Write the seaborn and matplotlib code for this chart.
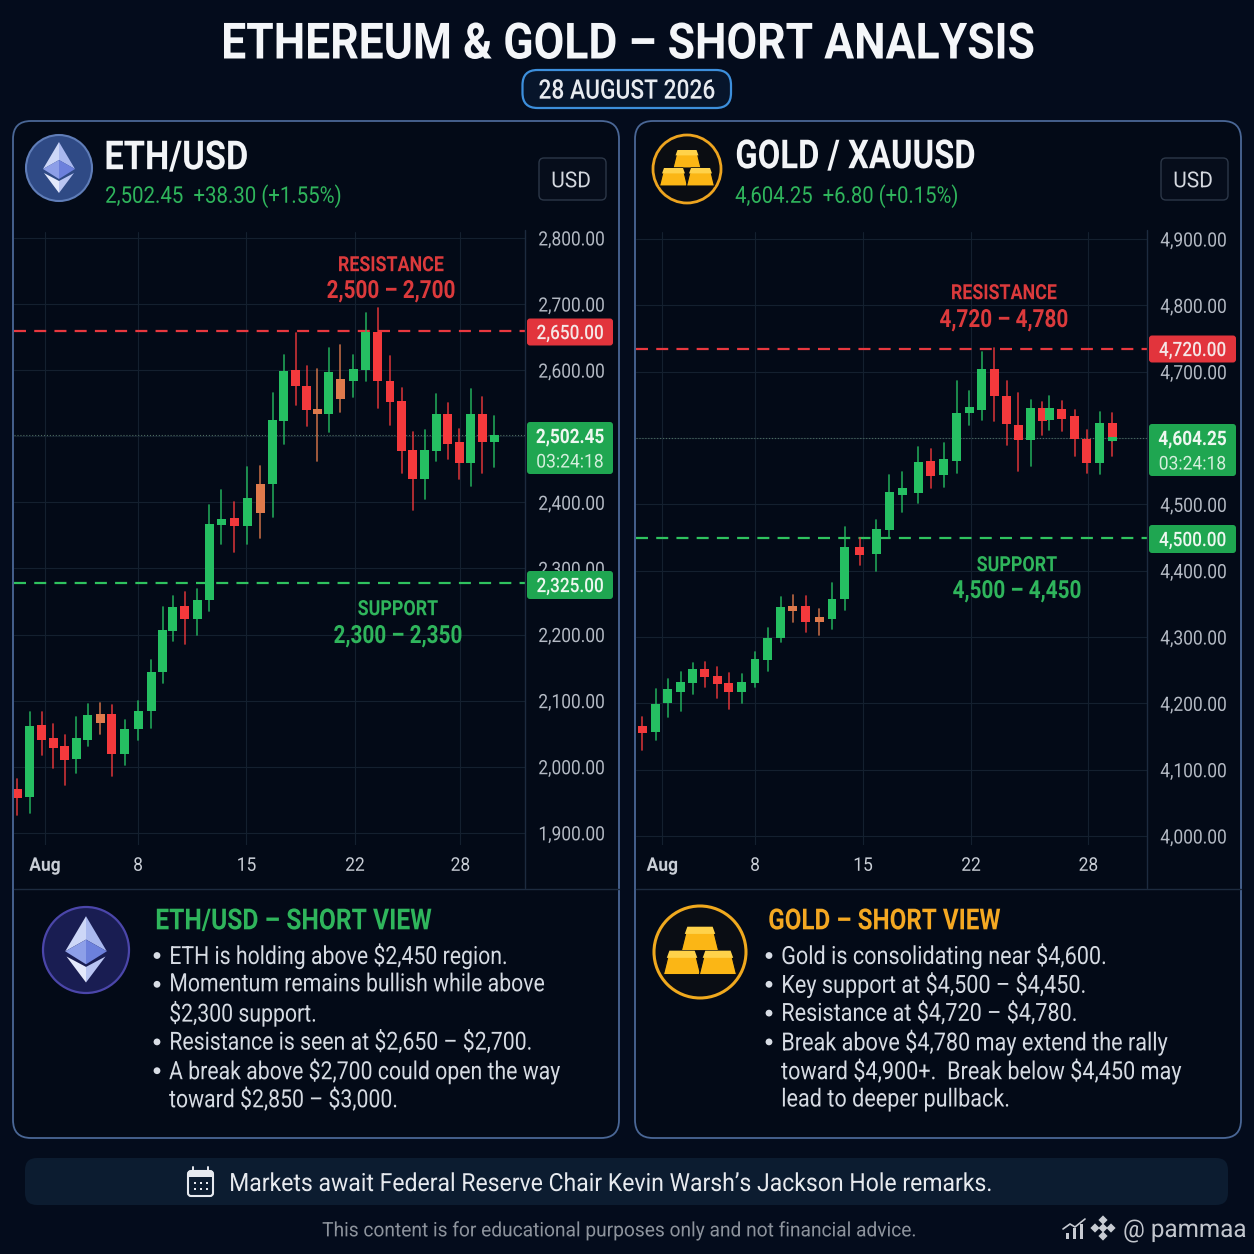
import numpy as np
import pandas as pd
import seaborn as sns
import matplotlib.pyplot as plt
from matplotlib.patches import FancyBboxPatch, Circle, Polygon, Rectangle
from matplotlib.patheffects import AbstractPathEffect
from matplotlib.transforms import Affine2D

# ETH/USD daily candles
eth_t = [0.21, 1.01, 1.79, 2.54, 3.29, 4.02, 4.75, 5.55, 6.32, 7.16, 8.02, 8.84, 9.59, 10.24,
         11.01, 11.81, 12.6, 13.37, 14.21, 15.05, 15.89, 16.69, 17.42, 18.17, 18.9, 19.57, 20.32,
         21.05, 21.89, 22.69, 23.48, 24.26, 25.01, 25.74, 26.5, 27.25, 27.98, 28.73, 29.46, 30.21, 30.98]
eth_open = [1967, 1954, 2063, 2043, 2031, 2011, 2041, 2080, 2080, 2020, 2057, 2084, 2143, 2206,
            2243, 2224, 2252, 2366, 2376, 2364, 2428, 2427, 2523, 2600, 2576, 2541, 2534,
            2587, 2584, 2600, 2657, 2584, 2553, 2479, 2436, 2478, 2534, 2491, 2460, 2534, 2491]
eth_high = [1982, 2083, 2083, 2064, 2048, 2075, 2095, 2096, 2094, 2070, 2100, 2161, 2241, 2258,
            2265, 2269, 2396, 2419, 2400, 2453, 2455, 2565, 2623, 2656, 2606, 2601, 2633,
            2638, 2623, 2686, 2694, 2621, 2573, 2506, 2509, 2564, 2551, 2511, 2571, 2560, 2531]
eth_low = [1927, 1930, 2018, 1998, 1973, 1990, 2031, 2049, 1986, 2003, 2040, 2058, 2126, 2190,
           2185, 2199, 2236, 2337, 2325, 2337, 2346, 2378, 2488, 2547, 2516, 2463, 2507,
           2536, 2560, 2583, 2542, 2517, 2444, 2389, 2405, 2462, 2465, 2436, 2425, 2445, 2453]
eth_close = [1953, 2062, 2041, 2028, 2010, 2043, 2079, 2066, 2019, 2057, 2084, 2143, 2207, 2242,
             2224, 2252, 2367, 2375, 2364, 2406, 2384, 2524, 2599, 2576, 2539, 2533, 2597,
             2557, 2602, 2657, 2583, 2552, 2478, 2436, 2479, 2534, 2488, 2460, 2534, 2491, 2502]
eth_orange = [7, 20, 25, 27]
eth_ticks = [1900, 2000, 2100, 2200, 2300, 2400, 2500, 2600, 2700, 2800]
eth_resistance_line, eth_support_line, eth_last = 2659, 2278, 2502

# Gold daily candles
gold_t = [0.7, 1.56, 2.36, 3.18, 3.96, 4.74, 5.54, 6.31, 7.14, 8.0, 8.84, 9.67, 10.46, 11.29,
          12.15, 12.99, 13.83, 14.79, 15.86, 16.7, 17.53, 18.58, 19.39, 20.23, 21.07, 21.87, 22.69,
          23.51, 24.31, 25.06, 25.87, 26.62, 27.07, 27.88, 28.72, 29.5, 30.34, 31.16, 31.16]
gold_open = [4166, 4157, 4200, 4217, 4231, 4252, 4242, 4230, 4217, 4231, 4266, 4299, 4347, 4347,
             4330, 4327, 4357, 4435, 4425, 4462, 4514, 4517, 4565, 4545, 4566, 4637, 4643,
             4704, 4663, 4620, 4597, 4646, 4627, 4644, 4633, 4599, 4563, 4623, 4596]
gold_high = [4180, 4222, 4237, 4247, 4261, 4262, 4255, 4246, 4245, 4277, 4314, 4361, 4364, 4362,
             4343, 4381, 4466, 4450, 4476, 4545, 4549, 4586, 4584, 4593, 4686, 4671, 4729,
             4735, 4686, 4668, 4657, 4655, 4663, 4656, 4643, 4612, 4640, 4637, 4601]
gold_low = [4130, 4145, 4180, 4189, 4214, 4224, 4208, 4192, 4200, 4224, 4249, 4293, 4323, 4308,
            4303, 4312, 4341, 4409, 4400, 4449, 4489, 4502, 4524, 4526, 4548, 4620, 4627,
            4625, 4589, 4550, 4558, 4605, 4612, 4611, 4573, 4547, 4546, 4573, 4596]
gold_close = [4156, 4199, 4221, 4232, 4252, 4240, 4229, 4217, 4232, 4267, 4299, 4345, 4340, 4323,
              4322, 4358, 4435, 4423, 4463, 4519, 4524, 4564, 4543, 4568, 4638, 4647, 4704,
              4663, 4621, 4597, 4645, 4626, 4645, 4629, 4599, 4563, 4623, 4601, 4601]
gold_orange = [12, 14]
gold_ticks = [4000, 4100, 4200, 4300, 4400, 4500, 4600, 4700, 4800, 4900]
gold_resistance_line, gold_support_line, gold_last = 4734, 4449, 4600

day_labels = ["Aug", "8", "15", "22", "28"]
eth_day_pos = [2.0, 8, 15, 22, 28.8]
gold_day_pos = [2.0, 8, 15, 22, 29.6]

eth_bullets = ["ETH is holding above $2,450 region.",
               "Momentum remains bullish while above\n$2,300 support.",
               "Resistance is seen at $2,650 – $2,700.",
               "A break above $2,700 could open the way\ntoward $2,850 – $3,000."]
gold_bullets = ["Gold is consolidating near $4,600.",
                "Key support at $4,500 – $4,450.",
                "Resistance at $4,720 – $4,780.",
                "Break above $4,780 may extend the rally\ntoward $4,900+.  Break below $4,450 may\nlead to deeper pullback."]

BG = "#040c1c"
PANEL = "#030a17"
GREEN = "#25bf62"
RED = "#f4393c"
ORANGE = "#df7a4c"
TXT_GREEN = "#2fb55c"
TXT_RED = "#dc3a3c"
TICK = "#b4bac4"
W, H = 1254, 1254

sns.set_theme(style="dark", rc={"axes.facecolor": "none", "figure.facecolor": BG})
plt.rcParams["font.family"] = ["Roboto", "DejaVu Sans"]

fig = plt.figure(figsize=(W / 100, H / 100), dpi=100, facecolor=BG)


class Squeeze(AbstractPathEffect):
    # no condensed font installed, so narrow the glyphs of a normal text
    def __init__(self, sx, ha="left"):
        super().__init__()
        self.sx, self.ha = sx, ha

    def draw_path(self, renderer, gc, tpath, affine, rgbFace=None):
        ext = tpath.get_extents()
        pivot = ext.x0 if self.ha == "left" else (ext.x0 + ext.x1) / 2
        squeeze = Affine2D().translate(-pivot, 0).scale(self.sx, 1).translate(pivot, 0)
        renderer.draw_path(gc, tpath, squeeze + affine, rgbFace)


def px_axes(x0, y0, x1, y1, z):
    return fig.add_axes([x0 / W, 1 - y1 / H, (x1 - x0) / W, (y1 - y0) / H], zorder=z)


back = px_axes(0, 0, W, H, 0)
over = px_axes(0, 0, W, H, 5)
for a in (back, over):
    a.set_xlim(0, W)
    a.set_ylim(H, 0)
    a.axis("off")


def txt(x, y, s, px, color="#e6e9ef", weight="normal", ha="left", sx=1.0, **kw):
    return over.text(x, y + px * 0.08, s, fontsize=px * 0.72, color=color, fontweight=weight, ha=ha, va="center",
                     parse_math=False, path_effects=[Squeeze(sx, ha)], **kw)


def rbox(x0, y0, x1, y1, r, fc, ec="none", lw=1.0, ax=over, z=2):
    ax.add_patch(FancyBboxPatch((x0, y0), x1 - x0, y1 - y0, boxstyle=f"round,pad=0,rounding_size={r}",
                                fc=fc, ec=ec, lw=lw, zorder=z))


def draw_candles(ax, t, o, h, l, c, orange):
    kinds = ["up" if b >= a else "down" for a, b in zip(o, c)]
    for i in orange:
        kinds[i] = "flat"
    wicks = pd.DataFrame({"t": t + t, "price": h + l, "candle": list(range(len(t))) * 2, "kind": kinds * 2})
    pal = {"up": GREEN, "down": RED, "flat": ORANGE}
    sns.lineplot(data=wicks, x="t", y="price", hue="kind", units="candle", estimator=None, sort=False,
                 palette=pal, linewidth=1.25, legend=False, alpha=0.8, ax=ax, zorder=3)
    low = np.minimum(o, c)
    ax.bar(t, np.abs(np.array(c) - np.array(o)), bottom=low, width=0.58, color=[pal[k] for k in kinds],
           linewidth=0, zorder=4)


def draw_chart(box, xlim, ylim, t, o, h, l, c, orange, ticks, hidden, day_pos, res, sup, last):
    ax = px_axes(*box, 2)
    draw_candles(ax, t, o, h, l, c, orange)
    ax.set_xlim(*xlim)
    ax.set_ylim(*ylim)
    ax.set_xlabel("")
    ax.set_ylabel("")
    ax.set_yticks(ticks)
    ax.set_yticklabels(["" if v == hidden else f"{v:,.2f}" for v in ticks])
    ax.set_xticks(day_pos)
    ax.set_xticklabels(day_labels)
    ax.yaxis.tick_right()
    ax.tick_params(axis="y", length=0, pad=9.5, labelsize=14.2, labelcolor=TICK)
    ax.tick_params(axis="x", length=0, pad=8.5, labelsize=13.6, labelcolor="#c9ced6")
    for lab in ax.get_yticklabels():
        lab.set_path_effects([Squeeze(0.88)])
    for lab in ax.get_xticklabels():
        lab.set_path_effects([Squeeze(0.92, "center")])
    ax.get_xticklabels()[0].set_fontweight("bold")
    ax.grid(True, color="#14202f", linewidth=0.8)
    ax.set_axisbelow(True)
    sns.despine(ax=ax, left=True, bottom=True, right=True, top=True)
    ax.axhline(res, color="#e8383f", lw=1.6, dashes=(5.4, 3.7), zorder=2)
    ax.axhline(sup, color="#2fc35f", lw=1.6, dashes=(5.4, 3.7), zorder=2)
    ax.axhline(last, color="#4d6b5f", lw=0.8, ls=":", zorder=2)
    return ax


def eth_icon(cx, cy, k):
    pts = lambda p: [(cx + k * a, cy + k * b) for a, b in p]
    for p, col in [([(0, -26), (-16, 1), (0, -8)], "#cdd7f7"), ([(0, -26), (16, 1), (0, -8)], "#a9b8ee"),
                   ([(0, -8), (-16, 1), (0, 11)], "#8d9fe8"), ([(0, -8), (16, 1), (0, 11)], "#6c80dc"),
                   ([(-15, 5), (0, 13), (0, 25)], "#e4e9fb"), ([(15, 5), (0, 13), (0, 25)], "#b9c5f2")]:
        over.add_patch(Polygon(pts(p), fc=col, ec="none", zorder=4))


def gold_icon(cx, cy, k):
    def bar(bx, by):
        w0, w1, h = 9.5 * k, 14 * k, 18 * k
        over.add_patch(Polygon([(bx - w1, by + h), (bx - w0, by), (bx + w0, by), (bx + w1, by + h)],
                               fc="#fbb615", ec="#0b0d12", lw=0.8, zorder=4))
        over.add_patch(Polygon([(bx - w1 * .82, by + h * .3), (bx - w0, by), (bx + w0, by), (bx + w1 * .82, by + h * .3)],
                               fc="#ffd24a", ec="none", zorder=5))
    bar(cx, cy - 19 * k)
    bar(cx - 13.5 * k, cy - 1 * k)
    bar(cx + 13.5 * k, cy - 1 * k)


# panels and header
back.add_patch(FancyBboxPatch((13, 121), 606, 1017, boxstyle="round,pad=0,rounding_size=18", fc=PANEL, ec="#4a6796", lw=1.3))
back.add_patch(FancyBboxPatch((635, 121), 606, 1017, boxstyle="round,pad=0,rounding_size=18", fc=PANEL, ec="#4a6796", lw=1.3))
txt(628, 41, "ETHEREUM & GOLD – SHORT ANALYSIS", 50, "#f4f6f9", "bold", "center", sx=0.89)
rbox(522.5, 70, 731, 108, 15, "#07152b", "#3d8fdc", 1.6)
txt(627, 89, "28 AUGUST 2026", 27, "#e8ebf0", "medium", "center", sx=0.843, zorder=6)

draw_chart((14, 232, 525, 845), (0.0, 32.97), (1881.6, 2809), eth_t, eth_open, eth_high, eth_low, eth_close,
           eth_orange, eth_ticks, 2500, eth_day_pos, eth_resistance_line, eth_support_line, eth_last)
draw_chart((636, 232, 1147, 845), (0.29, 33.4), (3986.5, 4910.6), gold_t, gold_open, gold_high, gold_low, gold_close,
           gold_orange, gold_ticks, 4600, gold_day_pos, gold_resistance_line, gold_support_line, gold_last)

for x0, x1, xv in [(14, 619, 525), (636, 1241, 1147)]:
    over.plot([x0, x1], [888.5, 888.5], color="#1d2b3f", lw=1)
    over.plot([xv, xv], [230, 888], color="#1d2b3f", lw=1)

# top icons and titles
over.add_patch(Circle((59, 168), 33, fc="#2f4a85", ec="#5f7db8", lw=1.5, zorder=3))
eth_icon(59, 168, 1.0)
over.add_patch(Circle((687, 169), 34, fc="#0b0d12", ec="#eda41f", lw=2, zorder=3))
gold_icon(687, 169, 1.0)
txt(104, 155, "ETH/USD", 40, "#f2f4f7", "bold", sx=0.86)
txt(735, 154, "GOLD / XAUUSD", 40, "#f2f4f7", "bold", sx=0.82)
txt(105, 194, "2,502.45  +38.30 (+1.55%)", 23, TXT_GREEN, sx=0.887)
txt(735, 194, "4,604.25  +6.80 (+0.15%)", 23, TXT_GREEN, sx=0.88)
for x0 in (539, 1161):
    rbox(x0, 158, x0 + 67, 200, 5, "#060d1b", "#2c3748", 1)
    txt(x0 + 32, 180, "USD", 22, "#d4d8df", ha="center", sx=0.95, zorder=6)

# level annotations and price tags
for x, y1, y2, a, b, col in [(391, 264, 289, "RESISTANCE", "2,500 – 2,700", TXT_RED),
                             (398, 608, 634, "SUPPORT", "2,300 – 2,350", TXT_GREEN),
                             (1004, 292, 318, "RESISTANCE", "4,720 – 4,780", TXT_RED),
                             (1017, 564, 589, "SUPPORT", "4,500 – 4,450", TXT_GREEN)]:
    txt(x, y1, a, 21, col, "bold", "center", sx=0.85)
    txt(x, y2, b, 25, col, "bold", "center", sx=0.83)

for x0, x1, ry, rt, cy, ct, sy, st in [(527, 613, 332, "2,650.00", 448, "2,502.45", 585, "2,325.00"),
                                       (1149, 1236, 349, "4,720.00", 450, "4,604.25", 539, "4,500.00")]:
    xc = (x0 + x1) / 2
    rbox(x0, ry - 13.5, x1, ry + 13.5, 3, "#e2343c")
    txt(xc, ry, rt, 20, "#f5e6e6", "medium", "center", sx=0.86, zorder=6)
    rbox(x0, cy - 26, x1, cy + 26, 3, "#1fa651")
    txt(xc, cy - 12, ct, 20, "#eef7f0", "bold", "center", sx=0.86, zorder=6)
    txt(xc, cy + 13, "03:24:18", 19, "#d5efdd", "normal", "center", sx=0.92, zorder=6)
    rbox(x0, sy - 14, x1, sy + 14, 3, "#1fa651")
    txt(xc, sy, st, 20, "#eef7f0", "medium", "center", sx=0.86, zorder=6)

# lower notes
over.add_patch(Circle((86, 950), 43, fc="#191d52", ec="#4b46aa", lw=1.6, zorder=3))
eth_icon(86, 950, 1.3)
over.add_patch(Circle((700, 952), 46, fc="#0a0d14", ec="#f0a91e", lw=2.2, zorder=3))
gold_icon(700, 952, 1.33)
txt(155, 919, "ETH/USD – SHORT VIEW", 29, TXT_GREEN, "bold", sx=0.85)
txt(768, 919, "GOLD – SHORT VIEW", 29, "#f4a822", "bold", sx=0.835)


def bullets(items, x_dot, x_text, sx):
    y = 953.5
    for item in items:
        over.add_patch(Circle((x_dot, y + 2), 3.4, fc="#d8dde5", ec="none", zorder=4))
        for line in item.split("\n"):
            txt(x_text, y, line, 25, "#d6dbe3", sx=sx)
            y += 28.8


bullets(eth_bullets, 157, 169, 0.85)
bullets(gold_bullets, 769, 781, 0.865)

# bottom strip
rbox(25, 1158, 1228, 1205, 12, "#0c1c30")
rbox(188, 1171, 213, 1196, 3, "none", "#e6e9ef", 1.5, z=4)
over.add_patch(Rectangle((188, 1171), 25, 6, fc="#e6e9ef", ec="none", zorder=4))
for dx in (193, 208):
    over.plot([dx, dx], [1167, 1174], color="#e6e9ef", lw=1.4, zorder=4)
for gx in (194, 200, 206):
    for gy in (1182, 1188):
        over.add_patch(Rectangle((gx, gy), 2, 2, fc="#e6e9ef", ec="none", zorder=4))
txt(229, 1182, "Markets await Federal Reserve Chair Kevin Warsh’s Jackson Hole remarks.", 25, "#e7eaef", sx=0.92, zorder=5)
txt(619, 1229, "This content is for educational purposes only and not financial advice.", 20, "#8d939c", ha="center", sx=0.958)

# watermark
for bx, bh in [(1066, 6), (1073, 11), (1080, 15)]:
    over.add_patch(Rectangle((bx, 1239 - bh), 3, bh, fc="#c7cbd2", ec="none"))
over.plot([1063, 1070, 1075, 1085], [1229, 1224, 1227, 1219], color="#c7cbd2", lw=1.2)
for dx, dy in [(0, -8), (-8, 0), (8, 0), (0, 8), (0, 0)]:
    cx, cy = 1103 + dx, 1228 + dy
    over.add_patch(Polygon([(cx, cy - 4.6), (cx + 4.6, cy), (cx, cy + 4.6), (cx - 4.6, cy)], fc="#c7cbd2", ec="none"))
txt(1123, 1228, "@ pammaa", 25, "#c2c6cd", sx=0.97)

fig.savefig("out.png", dpi=100, facecolor=BG)
plt.close(fig)
